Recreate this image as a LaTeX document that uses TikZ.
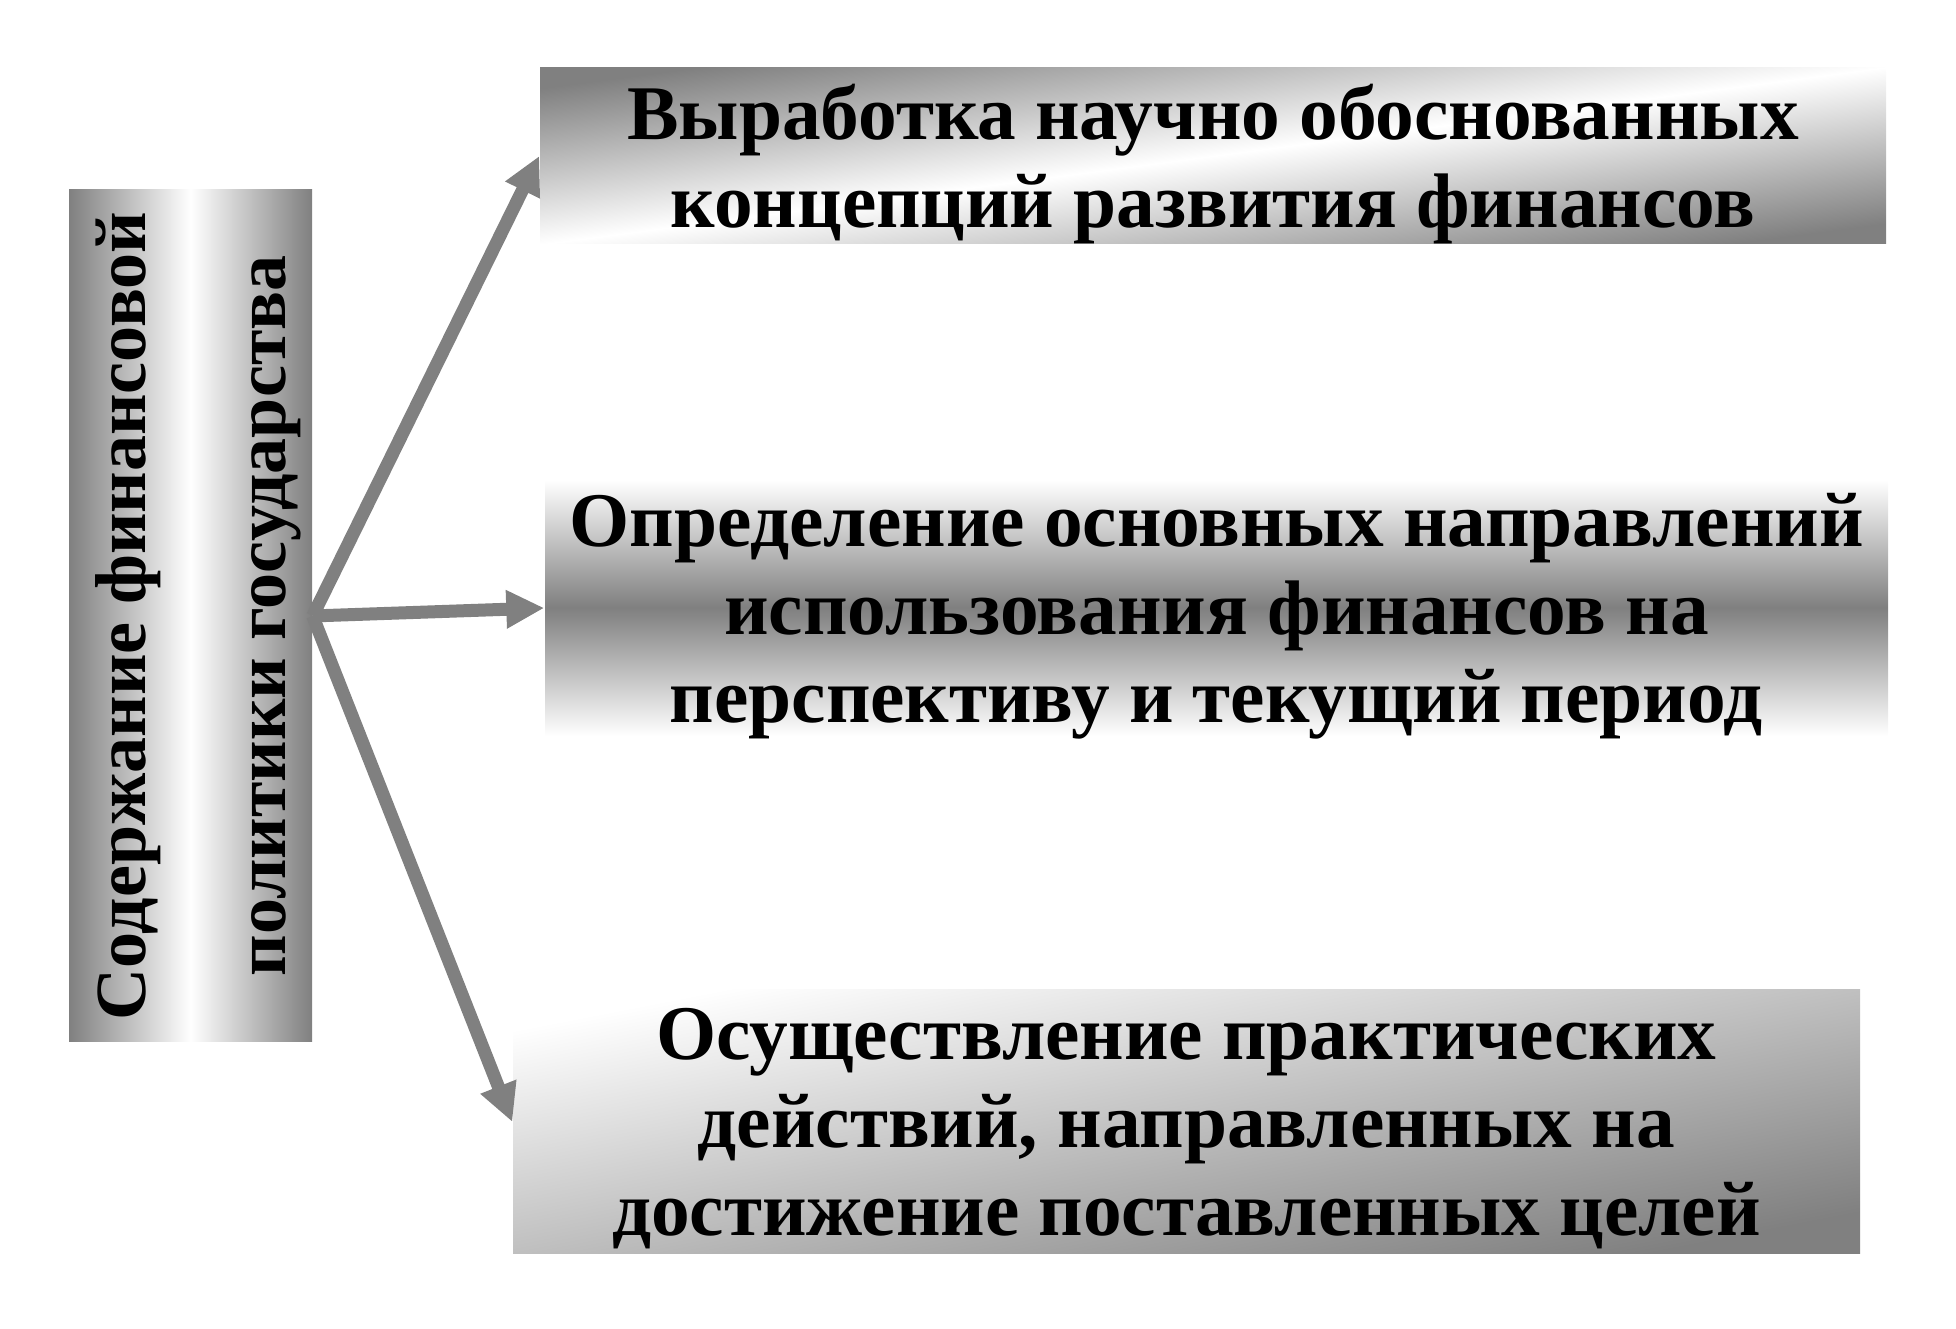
\documentclass[tikz,border=0pt]{standalone}
\usepackage{fontspec}
\setmainfont{Liberation Serif}
\usetikzlibrary{arrows.meta}

\begin{document}
\begin{tikzpicture}[font=\bfseries\fontsize{22}{25}\selectfont, inner sep=0pt, text depth=0pt]
\useasboundingbox (0,0) rectangle (19.56,13.29);

% Левая вертикальная рамка
\node (left) [rotate=90, minimum width=8.52cm, minimum height=2.43cm, left color=gray, right color=gray, middle color=white, align=center, font=\bfseries\fontsize{20.5}{24}\selectfont] at (1.905,7.13) {Содержание финансовой\\[16pt]политики государства};

% Первая рамка
\node (top) [minimum width=13.46cm, minimum height=1.76cm, top color=gray, bottom color=gray, middle color=white, shading angle=7.5, align=center] at (12.13,11.73) {Выработка научно обоснованных\\концепций развития финансов};

% Вторая рамка
\node (mid) [minimum width=13.43cm, minimum height=2.56cm, top color=white, bottom color=white, middle color=gray, align=center] at (12.165,7.21) {Определение основных направлений\\использования финансов на\\перспективу и текущий период};

% Третья рамка
\node (bot) [minimum width=13.47cm, minimum height=2.64cm, top color=white, bottom color=gray, shading angle=11, align=center] at (11.865,2.07) {Осуществление практических\\действий, направленных на\\достижение поставленных целей};

% Стрелки от левой рамки (её south -- правая сторона после поворота)
\path[draw, gray, line width=0.13cm, -{Triangle[length=0.38cm,width=0.36cm]}] (left.south) -- (top.west);
\path[draw, gray, line width=0.13cm, -{Triangle[length=0.38cm,width=0.36cm]}] (left.south) -- (mid.west);
\path[draw, gray, line width=0.13cm, -{Triangle[length=0.38cm,width=0.36cm]}] (left.south) -- (bot.west);

\end{tikzpicture}
\end{document}
